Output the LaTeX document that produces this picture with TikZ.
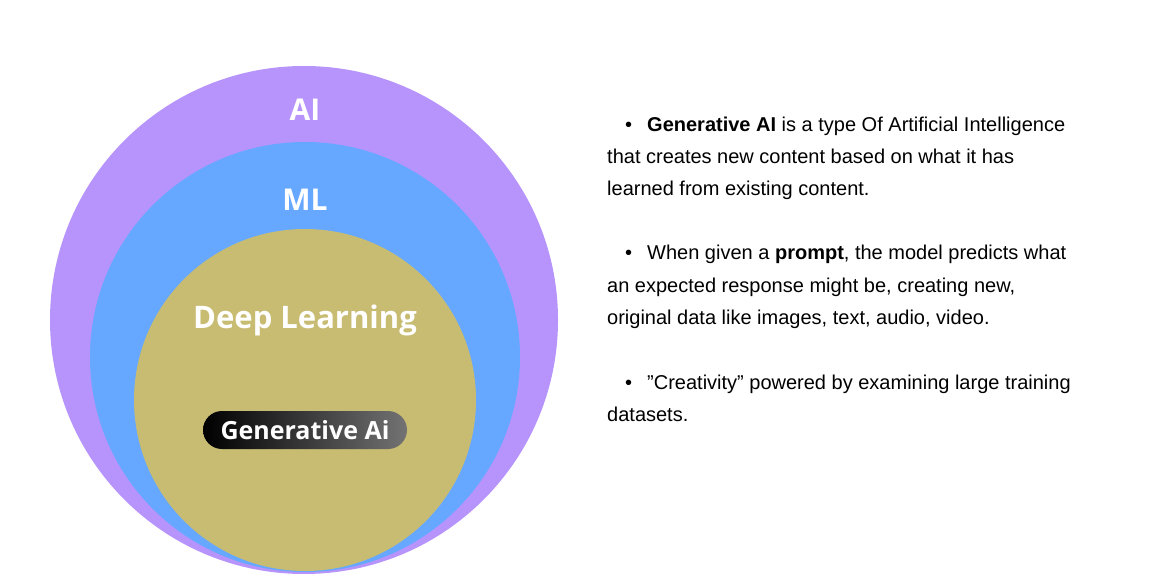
\documentclass[tikz,border=0pt]{standalone}
\usepackage{fontspec}
\setmainfont{Liberation Sans}
\newfontfamily\osans{Open Sans}
\definecolor{cpurple}{HTML}{B794FC}
\definecolor{cblue}{HTML}{66A8FF}
\definecolor{cyell}{HTML}{C8BC73}
\begin{document}
\begin{tikzpicture}[x=1pt,y=-1pt,
 lbl/.style={text=white,font=\osans\bfseries},
 ln/.style={anchor=base west,inner sep=0pt,font=\fontsize{20}{24}\selectfont}]
\useasboundingbox (0,0) rectangle (1169,577);
\fill[cpurple] (304,320) circle[radius=254];
\fill[cblue] (305,357) circle[radius=215];
\fill[cyell] (305,400) circle[radius=171];
\node[lbl,font=\osans\bfseries\fontsize{30}{34}\selectfont] (ai) at (305,110) {AI};
\node[lbl,font=\osans\bfseries\fontsize{30}{34}\selectfont] (ml) at (305,200) {ML};
\node[lbl,font=\osans\bfseries\fontsize{31}{36}\selectfont] (dl) at (305,320) {Deep Learning};
\shade[left color=black,right color=black!55,rounded corners=19] (203,411) rectangle (407,449);
\node[lbl,font=\osans\bfseries\fontsize{25}{30}\selectfont] (gen) at (305,430) {Generative Ai};
\node[ln] (b1) at (625,132) {\textbullet};
\node[ln] (l1) at (647,132) {\textbf{Generative AI} is a type Of Artificial Intelligence};
\node[ln] (l2) at (607,164) {that creates new content based on what it has};
\node[ln] (l3) at (607,196) {learned from existing content.};
\node[ln] (b2) at (625,260) {\textbullet};
\node[ln] (l4) at (647,260) {When given a \textbf{prompt}, the model predicts what};
\node[ln] (l5) at (607,292) {an expected response might be, creating new,};
\node[ln] (l6) at (607,324) {original data like images, text, audio, video.};
\node[ln] (b3) at (625,389) {\textbullet};
\node[ln] (l7) at (647,389) {"Creativity" powered by examining large training};
\node[ln] (l8) at (607,421) {datasets.};
\end{tikzpicture}
\end{document}
